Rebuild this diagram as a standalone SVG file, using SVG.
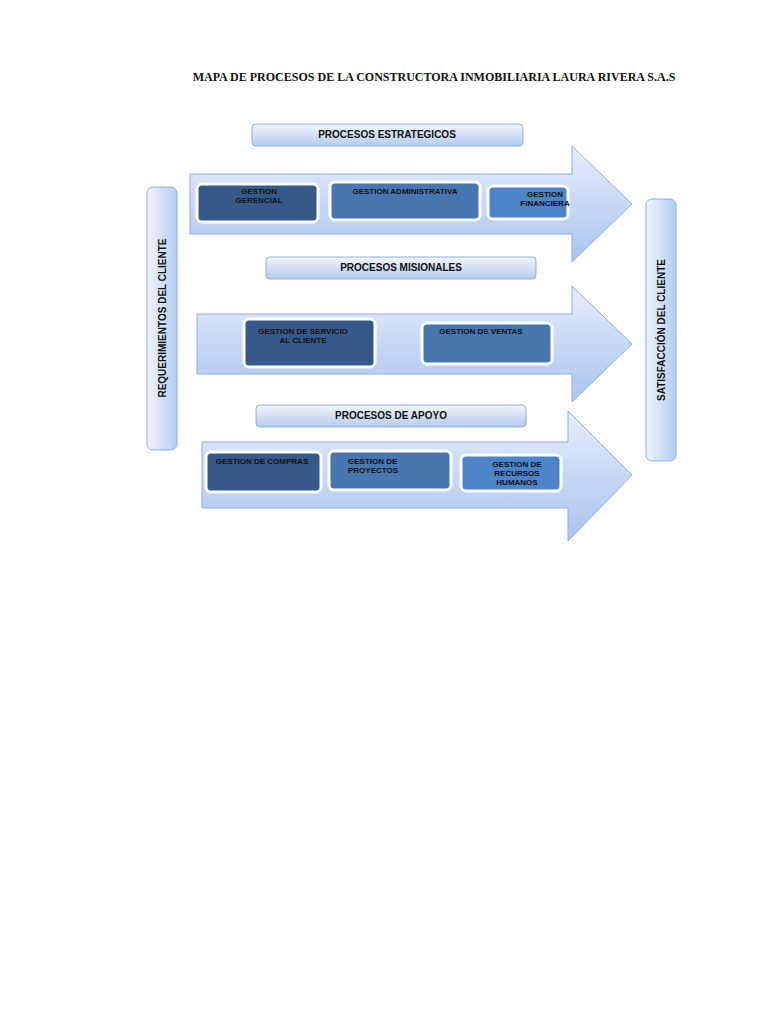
<svg xmlns="http://www.w3.org/2000/svg" width="768" height="1024" viewBox="0 0 768 1024">
<defs>
<linearGradient id="ag" x1="0" y1="0" x2="0" y2="1"><stop offset="0" stop-color="#e6eefb"/><stop offset="1" stop-color="#a9c3ef"/></linearGradient>
<linearGradient id="bg" x1="0" y1="0" x2="0" y2="1"><stop offset="0" stop-color="#f1f5fd"/><stop offset="1" stop-color="#b4cbf0"/></linearGradient>
<linearGradient id="vg" x1="0" y1="0" x2="1" y2="0"><stop offset="0" stop-color="#f1f5fd"/><stop offset="1" stop-color="#b4cbf0"/></linearGradient>
</defs>
<style>
.arr{fill:url(#ag);stroke:#8eaee0;stroke-width:1}
.hdr{fill:url(#bg);stroke:#8eaee0;stroke-width:1}
.vb{fill:url(#vg);stroke:#8eaee0;stroke-width:1}
.b{stroke:#fff;stroke-width:3}
.d1{fill:#36598a}.d2{fill:#4776b0}.d3{fill:#4d84c8}
text{font-family:"Liberation Sans",Arial,sans-serif;font-weight:bold;fill:#111}
.h{font-size:10px}.s{font-size:8px}
</style>
<text x="434" y="81" text-anchor="middle" style="font-family:'Liberation Serif','Times New Roman',serif;font-size:12px">MAPA DE PROCESOS DE LA CONSTRUCTORA INMOBILIARIA LAURA RIVERA S.A.S</text>
<g id="connectors">
<path class="arr" d="M190 174H572V146L632 204L572 262V234H190Z"/>
<path class="arr" d="M197 314H572V286L632 344L572 402V374H197Z"/>
<path class="arr" d="M202 442H568V411L632 475L568 541V508H202Z"/>
</g>
<g id="hdr1"><rect class="hdr" x="252" y="124" width="271" height="22" rx="4"/><text class="h" x="387" y="138" text-anchor="middle">PROCESOS ESTRATEGICOS</text></g>
<g id="hdr2"><rect class="hdr" x="266" y="257" width="270" height="22" rx="4"/><text class="h" x="401" y="271" text-anchor="middle">PROCESOS MISIONALES</text></g>
<g id="hdr3"><rect class="hdr" x="256" y="405" width="270" height="22" rx="4"/><text class="h" x="391" y="419" text-anchor="middle">PROCESOS DE APOYO</text></g>
<g id="req"><rect class="vb" x="147" y="187" width="30" height="263" rx="6"/><text class="h" transform="translate(166 318) rotate(-90)" text-anchor="middle">REQUERIMIENTOS DEL CLIENTE</text></g>
<g id="sat"><rect class="vb" x="646" y="199" width="30" height="262" rx="6"/><text class="h" transform="translate(665 330) rotate(-90)" text-anchor="middle">SATISFACCIÓN DEL CLIENTE</text></g>
<g id="n1"><rect class="b d1" x="197" y="184" width="121" height="38" rx="5"/><text class="s" x="259" y="194" text-anchor="middle">GESTION</text><text class="s" x="259" y="203" text-anchor="middle">GERENCIAL</text></g>
<g id="n2"><rect class="b d2" x="330" y="182" width="150" height="38" rx="5"/><text class="s" x="405" y="194" text-anchor="middle">GESTION ADMINISTRATIVA</text></g>
<g id="n3"><rect class="b d3" x="488" y="186" width="80" height="33" rx="5"/><text class="s" x="545" y="197" text-anchor="middle">GESTION</text><text class="s" x="545" y="206" text-anchor="middle">FINANCIERA</text></g>
<g id="n4"><rect class="b d1" x="244" y="319" width="131" height="48" rx="5"/><text class="s" x="303" y="334" text-anchor="middle">GESTION DE SERVICIO</text><text class="s" x="303" y="343" text-anchor="middle">AL CLIENTE</text></g>
<g id="n5"><rect class="b d2" x="422" y="323" width="130" height="41" rx="5"/><text class="s" x="481" y="334" text-anchor="middle">GESTION DE VENTAS</text></g>
<g id="n6"><rect class="b d1" x="206" y="452" width="115" height="40" rx="5"/><text class="s" x="262" y="464" text-anchor="middle">GESTION DE COMPRAS</text></g>
<g id="n7"><rect class="b d2" x="329" y="451" width="122" height="39" rx="5"/><text class="s" x="348" y="464">GESTION DE</text><text class="s" x="348" y="473">PROYECTOS</text></g>
<g id="n8"><rect class="b d3" x="461" y="455" width="100" height="36" rx="5"/><text class="s" x="517" y="467" text-anchor="middle">GESTION DE</text><text class="s" x="517" y="476" text-anchor="middle">RECURSOS</text><text class="s" x="517" y="485" text-anchor="middle">HUMANOS</text></g>
</svg>
